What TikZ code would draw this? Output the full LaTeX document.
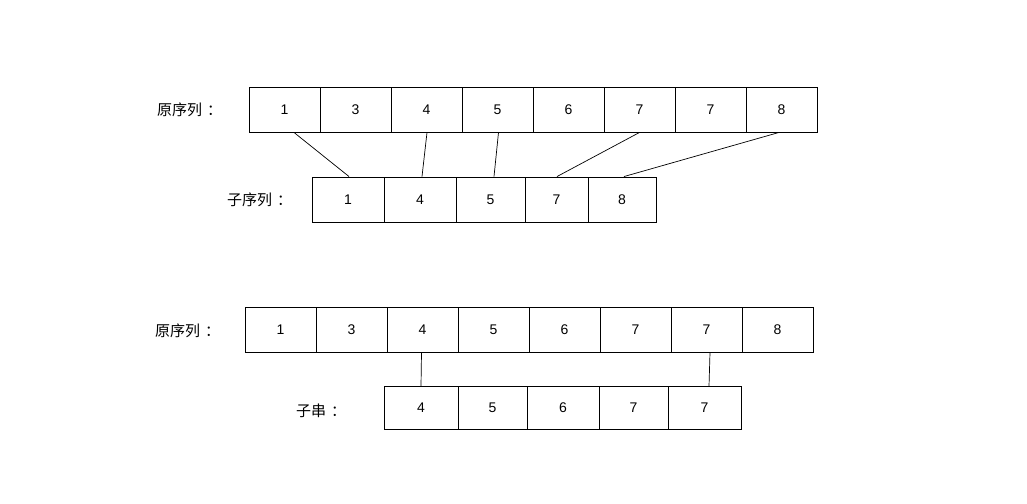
\documentclass[tikz,border=0pt]{standalone}
\usepackage{fontspec}
\setmainfont{Liberation Sans}
\newfontfamily\cjk{Noto Sans CJK SC}
\usetikzlibrary{calc}

\begin{document}
\begin{tikzpicture}[x=1pt,y=-1pt,
  zelle/.style={draw,line width=0.9pt,inner sep=0pt,font=\fontsize{14}{14}\selectfont},
  beschr/.style={anchor=west,inner sep=0pt,font=\cjk\fontsize{15}{15}\selectfont},
  linie/.style={line width=0.7pt}]
\useasboundingbox (0,0) rectangle (1027,503);
\def\zb{71}
% oben: Folge und Teilfolge
\node[beschr] (la) at (157,110) {原序列\hspace{5pt}：};
\foreach \z [count=\i] in {1,3,4,5,6,7,7,8}
  \node[zelle,minimum width=\zb,minimum height=45] (oa\i) at (249+\zb*\i-\zb/2,109.5) {\z};
\node[beschr] (lb) at (227,199.5) {子序列\hspace{5pt}：};
\foreach \z/\l/\r [count=\i] in {1/312/384,4/384/456,5/456/525,7/525/588,8/588/656}
  {\pgfmathsetmacro\w{\r-\l}
   \node[zelle,minimum width=\w,minimum height=45] (sa\i) at ({(\l+\r)/2},199.5) {\z};}
\draw[linie] ($(oa1.south)+(9.5,0)$) -- ($(sa1.north)+(1,0)$);
\draw[linie] ($(oa3.south)+(0.5,0)$) -- ($(sa2.north)+(2,0)$);
\draw[linie] ($(oa4.south)+(1,0)$) -- ($(sa3.north)+(3.5,0)$);
\draw[linie] (oa6.south) -- ($(sa4.north)+(0.5,0)$);
\draw[linie] ($(oa8.south)+(-2.5,0)$) -- ($(sa5.north)+(2,0)$);
% unten: Folge und Teilstring
\node[beschr] (lc) at (155,330.5) {原序列\hspace{5pt}：};
\foreach \z [count=\i] in {1,3,4,5,6,7,7,8}
  \node[zelle,minimum width=\zb,minimum height=45] (ub\i) at (245+\zb*\i-\zb/2,329.5) {\z};
\node[beschr] (ld) at (296,411) {子串\hspace{5pt}：};
\foreach \z/\l/\r [count=\i] in {4/384/458,5/458/527,6/527/599,7/599/668,7/668/741}
  {\pgfmathsetmacro\w{\r-\l}
   \node[zelle,minimum width=\w,minimum height=43] (sb\i) at ({(\l+\r)/2},408) {\z};}
\draw[linie] ($(ub3.south)+(-1,0)$) -- (sb1.north);
\draw[linie] ($(ub7.south)+(3.5,0)$) -- ($(sb5.north)+(4.5,0)$);
\end{tikzpicture}
\end{document}
